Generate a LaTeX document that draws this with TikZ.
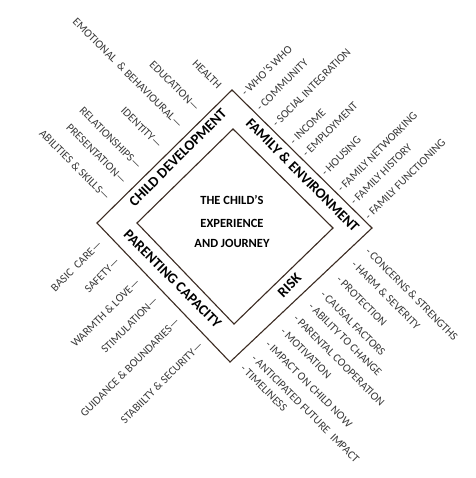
\documentclass[tikz,border=0pt]{standalone}
\usepackage{fontspec}
\setmainfont{Carlito}
\definecolor{labgray}{HTML}{3A3A3A}
\definecolor{edge}{HTML}{3B2B22}
\begin{document}
\begin{tikzpicture}[x=1pt,y=1pt,
  lab/.style={font=\fontsize{11.4}{12}\selectfont, text=labgray, inner sep=0pt, text height=0.64em, text depth=0pt},
  ul/.style={lab, anchor=east, rotate=-45},
  ur/.style={lab, anchor=west, rotate=45},
  ll/.style={lab, anchor=east, rotate=45},
  lr/.style={lab, anchor=west, rotate=-45},
  band/.style={font=\bfseries\fontsize{14.5}{16}\selectfont, inner sep=0pt, text height=0.64em, text depth=0pt},
  diamond line/.style={draw=edge, line width=1.1pt, line join=miter}]
\useasboundingbox (0,0) rectangle (475,-478);
\fill[white] (0,0) rectangle (475,-478);
% diamonds
\coordinate (ot) at (232,-90);  \coordinate (or) at (372,-228);
\coordinate (ob) at (230,-362); \coordinate (ol) at (97,-223);
\coordinate (it) at (233,-129); \coordinate (ir) at (333,-228);
\coordinate (ib) at (234,-324); \coordinate (il) at (137,-223);
\draw[diamond line] (ot) -- (or) -- (ob) -- (ol) -- cycle;
\draw[diamond line] (it) -- (ir) -- (ib) -- (il) -- cycle;
% centre
\node[font=\bfseries\fontsize{12.5}{20}\selectfont, align=center, inner sep=0pt] (centre) at (232,-221)
  {THE CHILD’S\\[3pt]EXPERIENCE\\AND JOURNEY};
% band labels
\node[band, rotate=45] (cd) at (179,-158.5) {CHILD DEVELOPMENT};
\node[band, rotate=-45] (fe) at (301.5,-176.5) {FAMILY \& ENVIRONMENT};
\node[band, rotate=-45] (pc) at (171.5,-280) {PARENTING CAPACITY};
\node[band, rotate=45] (risk) at (290.5,-286.5) {RISK};
% upper left
\node[ul] (u1) at (219.5,-87.5) {HEALTH};
\node[ul] (u2) at (197.5,-109.5) {EDUCATION—};
\node[ul] (u3) at (180.5,-126.5) {EMOTIONAL \ \& BEHAVIOURAL—};
\node[ul] (u4) at (160,-147) {IDENTITY—};
\node[ul] (u5) at (139.5,-167.5) {RELATIONSHIPS—};
\node[ul] (u6) at (124.5,-182.5) {PRESENTATION—};
\node[ul] (u7) at (108,-199) {ABILITIES \& SKILLS—};
% upper right
\node[ur] (r1) at (243.5,-94.5) {- WHO’S WHO};
\node[ur] (r2) at (258.5,-109.5) {- COMMUNITY};
\node[ur] (r3) at (274.5,-125.5) {- SOCIAL INTEGRATION};
\node[ur] (r4) at (292,-143) {- INCOME};
\node[ur] (r5) at (304.5,-155.5) {- EMPLOYMENT};
\node[ur] (r6) at (323.5,-174.5) {- HOUSING};
\node[ur] (r7) at (339.5,-190.5) {- FAMILY NETWORKING};
\node[ur] (r8) at (352.5,-203.5) {- FAMILY HISTORY};
\node[ur] (r9) at (367,-218) {- FAMILY FUNCTIONING};
% lower left
\node[ll] (l1) at (100.5,-242.5) {BASIC \ CARE—};
\node[ll] (l2) at (118,-260) {SAFETY—};
\node[ll] (l3) at (138.5,-280.5) {WARMTH \& LOVE—};
\node[ll] (l4) at (156.5,-298.5) {STIMULATION—};
\node[ll] (l5) at (178,-320) {GUIDANCE \& BOUNDARIES—};
\node[ll] (l6) at (201.5,-343.5) {STABIILTY \& SECURITY—};
% lower right
\node[lr] (k1) at (367,-250) {- CONCERNS \& STRENGTHS};
\node[lr] (k2) at (353,-263) {- HARM \& SEVERITY};
\node[lr] (k3) at (338,-278) {- PROTECTION};
\node[lr] (k4) at (322,-293) {- CAUSAL FACTORS};
\node[lr] (k5) at (310,-305) {- ABILITY TO CHANGE};
\node[lr] (k6) at (295,-317) {- PARENTAL COOPERATION};
\node[lr] (k7) at (282,-330) {- MOTIVATION};
\node[lr] (k8) at (267,-343) {- IMPACT ON CHILD NOW};
\node[lr] (k9) at (253,-357) {- ANTICIPATED FUTURE \ IMPACT};
\node[lr] (k10) at (242,-367) {- TIMELINESS};
\end{tikzpicture}
\end{document}
